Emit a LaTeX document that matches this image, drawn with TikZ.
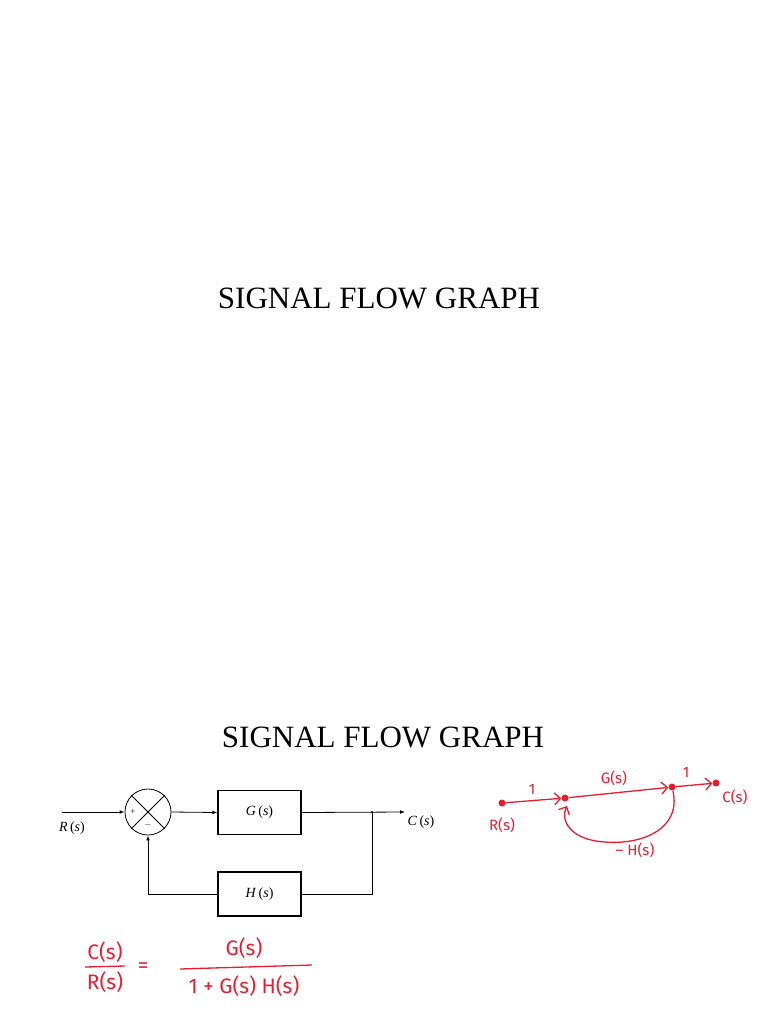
\documentclass[tikz,border=0pt]{standalone}
\usepackage{fontspec}
\setmainfont{Liberation Serif}
\newfontfamily\hand{Fira Sans}
\usetikzlibrary{arrows.meta}
\definecolor{pen}{RGB}{230,30,50}
\newcommand{\fn}[1]{\textit{#1}\,(\textit{s})}
\begin{document}
\begin{tikzpicture}[x=1pt,y=-1pt,
 blk/.style={draw,line width=1.4pt,minimum width=83pt,minimum height=44pt,font=\fontsize{14}{14}\selectfont},
 ln/.style={line width=0.8pt},
 ar/.style={ln,-{Latex[length=5pt]}},
 red/.style={pen,line width=1.3pt},
 rar/.style={red,-{Straight Barb[length=6pt]}},
 dot/.style={circle,fill=pen,inner sep=0pt,minimum size=7pt},
 rl/.style={pen,font=\hand\fontsize{15}{15}\selectfont},
 eq/.style={pen,font=\hand\fontsize{21}{21}\selectfont},
 tt/.style={font=\fontsize{31}{31}\selectfont}]
\useasboundingbox (0,0) rectangle (768,1024);
\node[tt] (t1) at (379,298) {SIGNAL FLOW GRAPH};
\node[tt] (t2) at (383,737) {SIGNAL FLOW GRAPH};
% block diagram
\coordinate (rin) at (62,812);
\node[draw,circle,minimum size=46pt,inner sep=0pt,ln] (sum) at (148,812) {};
\draw[ln] (sum.45)--(sum.225) (sum.135)--(sum.315);
\node[font=\small] at (133,812) {+};
\node[font=\small] at (148,825) {$-$};
\node[blk] (g) at (259.5,812.5) {\fn{G}};
\node[blk] (h) at (259.5,894) {\fn{H}};
\coordinate (j) at (372,812);
\coordinate (out) at (405,812);
\coordinate (jb) at (372,894);
\coordinate (fb) at (148,894);
\draw[ar] (rin)--(sum.west);
\draw[ar] (sum.east)--(g.west);
\draw[ar] (g.east)--(out);
\fill (j) circle (1.2pt);
\draw[ln] (j)--(jb)--(h.east);
\draw[ar] (h.west)--(fb)--(sum.south);
\node[font=\fontsize{14}{14}\selectfont] (rs) at (72,828) {\fn{R}};
\node[font=\fontsize{14}{14}\selectfont] (cs) at (421,822) {\fn{C}};
% signal flow graph
\node[dot] (n1) at (502,803) {};
\node[dot] (n2) at (565,798) {};
\node[dot] (n3) at (672,787) {};
\node[dot] (n4) at (716,783) {};
\draw[rar] (n1)--(n2);
\draw[rar] (n2)--(n3);
\draw[rar] (n3)--(n4);
\draw[rar] (n3) .. controls (682,830) and (640,845) .. (605,842) .. controls (570,840) and (560,820) .. (567,806);
\node[rl] at (532,789) {1};
\node[rl] at (614,778) {G(s)};
\node[rl] at (686,772) {1};
\node[rl] at (502,825) {R(s)};
\node[rl] at (735,797) {C(s)};
\node[rl] at (635,850) {– H(s)};
% equation
\node[eq] (c) at (105,952) {C(s)};
\node[eq] (r) at (105,982) {R(s)};
\draw[red] (85,967)--(125,966);
\node[eq] at (143,968) {=};
\node[eq] at (244,948) {G(s)};
\draw[red] (180,969)--(312,965);
\node[eq] at (244,986) {1 + G(s) H(s)};
\end{tikzpicture}
\end{document}
